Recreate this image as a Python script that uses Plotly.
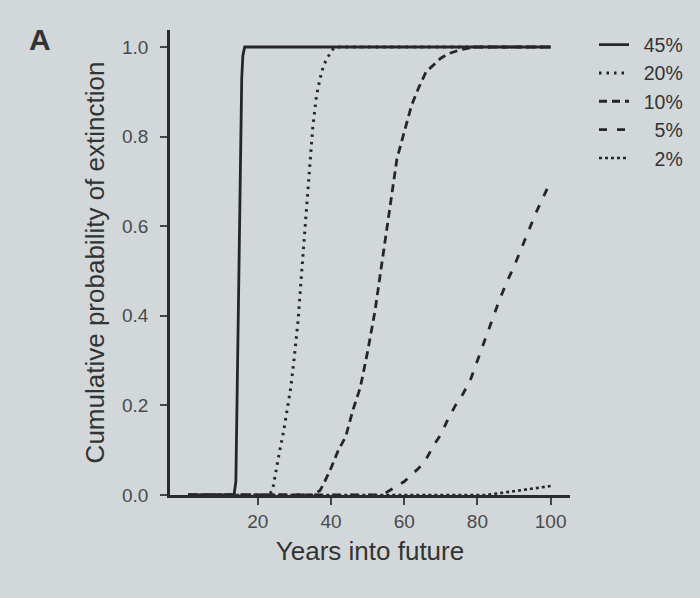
import plotly.graph_objects as go

# ---- data ----
series_names = ["\u200245%", "\u200220%", "\u200210%", "\u2002\u20075%", "\u2002\u20072%"]

years_45 = [1, 13.5, 14.0, 14.3, 14.7, 15.2, 15.6, 15.9, 16.4, 17, 100]
prob_45 = [0, 0, 0.03, 0.2, 0.5, 0.8, 0.93, 0.98, 1.0, 1.0, 1.0]

years_20 = [1, 23, 24, 25, 26, 27, 28, 29, 30, 31, 32, 33, 34, 35, 36, 37, 38, 39, 40, 41, 100]
prob_20 = [0, 0, 0.01, 0.06, 0.1, 0.14, 0.19, 0.24, 0.31, 0.39, 0.5, 0.6, 0.72, 0.82, 0.89, 0.93, 0.96, 0.975, 0.99, 1.0, 1.0]

years_10 = [1, 35, 37, 38, 40, 42, 44, 46, 48, 50, 52, 54, 56, 58, 60, 62, 64, 66, 68, 70, 72, 75, 79, 100]
prob_10 = [0, 0, 0.01, 0.025, 0.06, 0.1, 0.13, 0.19, 0.24, 0.32, 0.41, 0.52, 0.64, 0.75, 0.81, 0.87, 0.91, 0.945, 0.96, 0.975, 0.985, 0.993, 1.0, 1.0]

years_5 = [1, 54, 56, 58, 60, 62, 64, 66, 68, 70, 72, 74, 76, 78, 80, 82, 84, 86, 88, 90, 92, 94, 96, 98, 100]
prob_5 = [0, 0, 0.01, 0.02, 0.03, 0.045, 0.06, 0.08, 0.11, 0.135, 0.17, 0.2, 0.225, 0.255, 0.3, 0.345, 0.39, 0.435, 0.475, 0.51, 0.55, 0.59, 0.63, 0.665, 0.70]

years_2 = [1, 82, 86, 90, 94, 97, 100]
prob_2 = [0, 0, 0.004, 0.009, 0.013, 0.017, 0.02]

x_ticks = [20, 40, 60, 80, 100]
y_ticks = [0.0, 0.2, 0.4, 0.6, 0.8, 1.0]
y_tick_labels = ["0.0", "0.2", "0.4", "0.6", "0.8", "1.0"]

# ---- styles ----
ink = "#262626"
styles = [
    dict(width=2.8, dash="solid"),
    dict(width=3.0, dash="2.5px,5px"),
    dict(width=2.8, dash="8px,5px"),
    dict(width=2.8, dash="8px,10px"),
    dict(width=2.6, dash="3px,3px"),
]
all_x = [years_45, years_20, years_10, years_5, years_2]
all_y = [prob_45, prob_20, prob_10, prob_5, prob_2]

fig = go.Figure()
for name, xs, ys, st in zip(series_names, all_x, all_y, styles):
    fig.add_trace(go.Scatter(x=xs, y=ys, mode="lines", name=name,
                             line=dict(color=ink, width=st["width"], dash=st["dash"])))

bg = "#d2d8da"
fig.update_layout(
    width=700, height=598,
    margin=dict(l=170, r=130, t=30, b=103),
    paper_bgcolor=bg, plot_bgcolor=bg,
    font=dict(family="Liberation Sans, Arial, sans-serif", color="#333"),
    showlegend=True,
    legend=dict(x=1.06, y=1.01, xanchor="left", yanchor="top",
                bgcolor="rgba(0,0,0,0)", font=dict(size=19.5, color="#333"),
                itemwidth=30, traceorder="normal"),
    xaxis=dict(range=[-4, 105.3], tickvals=x_ticks, ticks="outside", ticklen=7,
               tickwidth=1.5, tickcolor="#444", showgrid=False, zeroline=False,
               showline=True, linecolor="#2a2a2a", linewidth=2.5,
               tickfont=dict(size=19, color="#4a4a4a"),
               title=dict(text="Years into future", font=dict(size=26, color="#333"), standoff=12)),
    yaxis=dict(range=[0, 1.038], tickvals=y_ticks, ticktext=y_tick_labels, ticks="outside",
               ticklen=7, tickwidth=1.5, tickcolor="#444", showgrid=False, zeroline=False,
               showline=True, linecolor="#2a2a2a", linewidth=2.5,
               tickfont=dict(size=19, color="#4a4a4a"), ticklabelstandoff=8,
               title=dict(text="Cumulative probability of extinction", font=dict(size=26, color="#333"), standoff=10)),
    annotations=[dict(text="<b>A</b>", x=-0.325, y=0.98, xref="paper", yref="paper",
                      xanchor="center", yanchor="middle", showarrow=False,
                      font=dict(size=30, color="#333"))],
)

fig.write_html("out.html", config={"displayModeBar": False},
               post_script="document.body.style.margin='0';document.body.style.background='%s';" % bg)
